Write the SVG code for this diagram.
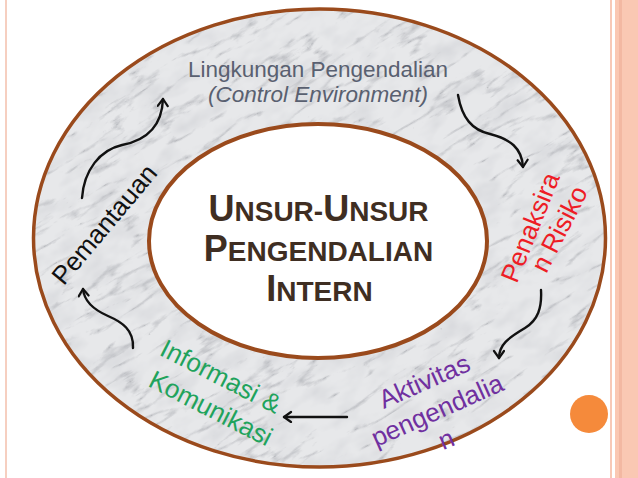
<svg xmlns="http://www.w3.org/2000/svg" width="638" height="478" viewBox="0 0 638 478">
<style>
.sans{font-family:"Liberation Sans",Arial,sans-serif}
.lbl{font-size:26px;text-anchor:middle}
.conn{fill:none;stroke:#111;stroke-width:2.4;stroke-linecap:round}
.ring{stroke:#9A4A1C}
</style>
<defs>
<marker id="ah" markerUnits="userSpaceOnUse" markerWidth="14" markerHeight="14" refX="9" refY="6" orient="auto">
<path d="M2,1 L9,6 L2,11" fill="none" stroke="#111" stroke-width="2.2" stroke-linecap="round" stroke-linejoin="round"/>
</marker>
<filter id="marble" x="0" y="0" width="100%" height="100%" filterUnits="objectBoundingBox">
<feTurbulence type="fractalNoise" baseFrequency="0.03 0.05" numOctaves="3" seed="11" result="n"/>
<feColorMatrix in="n" type="matrix" values="0 0 0 0 0.62  0 0 0 0 0.63  0 0 0 0 0.66  1.3 0 0 0 -0.56" result="p"/>
<feTurbulence type="turbulence" baseFrequency="0.012 0.05" numOctaves="5" seed="7" result="t"/>
<feColorMatrix in="t" type="matrix" values="0 0 0 0 0.38  0 0 0 0 0.39  0 0 0 0 0.42  -3.4 0 0 0 0.7" result="v"/>
<feMerge><feMergeNode in="p"/><feMergeNode in="v"/></feMerge>
</filter>
<clipPath id="outerClip"><ellipse cx="319.5" cy="238" rx="286" ry="229"/></clipPath>
</defs>
<rect width="638" height="478" fill="#ffffff"/>
<rect x="5" y="0" width="2" height="478" fill="#F6CFC0"/>
<rect x="610" y="0" width="2" height="478" fill="#F7C9B7"/>
<rect x="615" y="0" width="23" height="478" fill="#FAC8B3"/>
<rect x="619" y="0" width="3" height="478" fill="#F3B8A2"/>
<circle cx="589" cy="414" r="19" fill="#F58A3B"/>
<g id="ring-band">
<ellipse cx="319.5" cy="238" rx="286" ry="229" fill="#E7E8EA"/>
<g clip-path="url(#outerClip)"><rect x="-60" y="-120" width="760" height="720" fill="#fff" filter="url(#marble)" transform="rotate(-32 319.5 238)"/></g>
<ellipse cx="319.5" cy="238" rx="286" ry="229" fill="none" class="ring" stroke-width="3.5"/>
</g>
<g id="center-node">
<ellipse cx="318" cy="241" rx="169" ry="117" fill="#ffffff" class="ring" stroke-width="4"/>
<text class="sans" x="318.5" y="221" text-anchor="middle" font-weight="bold" fill="#3F2E22"><tspan font-size="36">U</tspan><tspan font-size="28">NSUR-</tspan><tspan font-size="36">U</tspan><tspan font-size="28">NSUR</tspan></text>
<text class="sans" x="318.5" y="261" text-anchor="middle" font-weight="bold" fill="#3F2E22"><tspan font-size="36">P</tspan><tspan font-size="28">ENGENDALIAN</tspan></text>
<text class="sans" x="319.5" y="301" text-anchor="middle" font-weight="bold" fill="#3F2E22"><tspan font-size="36">I</tspan><tspan font-size="28">NTERN</tspan></text>
</g>
<g id="node-lingkungan">
<text class="sans" x="318" y="77" font-size="22.5" text-anchor="middle" fill="#596070">Lingkungan Pengendalian</text>
<text class="sans" x="318" y="102" font-size="22.5" text-anchor="middle" font-style="italic" fill="#596070">(Control Environment)</text>
</g>
<g id="node-penaksiran" fill="#EE1C25">
<text class="sans lbl" transform="translate(532,228) rotate(-68)" y="7">Penaksira</text>
<text class="sans lbl" transform="translate(561,230) rotate(-63)" y="7">n Risiko</text>
</g>
<g id="node-aktivitas" fill="#7030A0">
<text class="sans lbl" transform="translate(425,383) rotate(-24)" y="7">Aktivitas</text>
<text class="sans lbl" transform="translate(438,412) rotate(-24)" y="7">pengendalia</text>
<text class="sans lbl" transform="translate(447,441) rotate(-23)" y="7">n</text>
</g>
<g id="node-informasi" fill="#1FA35C">
<text class="sans lbl" transform="translate(220,378) rotate(27)" y="7">Informasi &amp;</text>
<text class="sans lbl" transform="translate(210,410) rotate(27)" y="7">Komunikasi</text>
</g>
<g id="node-pemantauan" fill="#111">
<text class="sans lbl" transform="translate(105,225) rotate(-50)" y="8">Pemantauan</text>
</g>
<g id="connectors">
<path class="conn" d="M458,95 C462,118 472,130 490,134 C510,139 522,148 523,167" marker-end="url(#ah)"/>
<path class="conn" d="M541,290 C542,308 538,320 525,328 C508,338 499,345 499,358" marker-end="url(#ah)"/>
<path class="conn" d="M347,417 L284,417" marker-end="url(#ah)"/>
<path class="conn" d="M133,348 C134,330 122,322 108,316 C92,309 84,300 83,289" marker-end="url(#ah)"/>
<path class="conn" d="M82,198 C84,170 100,150 122,145 C148,140 162,125 163,99" marker-end="url(#ah)"/>
</g>
</svg>
